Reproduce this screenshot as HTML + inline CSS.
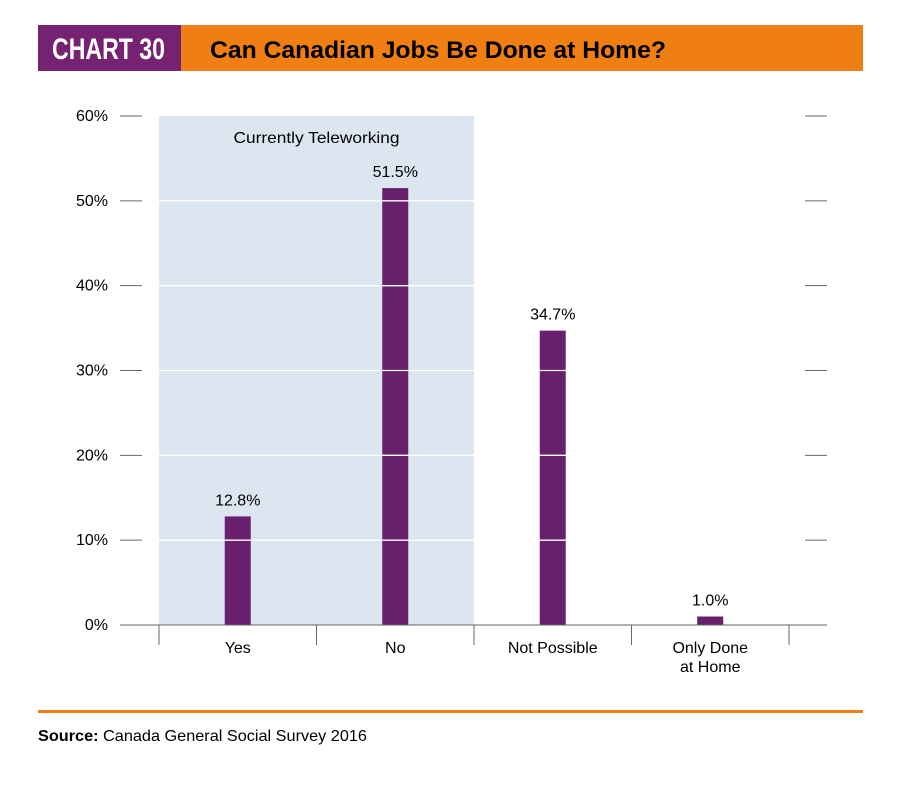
<!DOCTYPE html>
<html><head><meta charset="utf-8"><style>
body{margin:0;background:#fff;width:901px;height:788px;overflow:hidden;font-family:"Liberation Sans",sans-serif}
svg{position:absolute;left:0;top:0}
</style></head><body>
<svg width="901" height="788">
<rect x="38" y="25" width="143" height="46" fill="#762272"/>
<rect x="181" y="25" width="682" height="46" fill="#ef7f12"/>
<text x="52" y="59" fill="#fff" font-size="30" font-weight="bold" textLength="113" lengthAdjust="spacingAndGlyphs">CHART 30</text>
<text x="210" y="58" fill="#000" font-size="24" font-weight="bold" textLength="456" lengthAdjust="spacingAndGlyphs">Can Canadian Jobs Be Done at Home?</text>
<g id="plot"></g>
<rect x="38" y="710" width="825" height="3" fill="#ef7f12"/>
<text x="38" y="741" font-size="16" fill="#000" textLength="329" lengthAdjust="spacingAndGlyphs"><tspan font-weight="bold">Source:</tspan> Canada General Social Survey 2016</text>
</svg>
<script>
const categories=[["Yes"],["No"],["Not Possible"],["Only Done","at Home"]];
const values=[12.8,51.5,34.7,1.0];
const valueLabels=["12.8%","51.5%","34.7%","1.0%"];
const yTicks=[0,10,20,30,40,50,60];
const ns="http://www.w3.org/2000/svg";
const g=document.getElementById('plot');
const y0=625,yTop=116,yMax=60,x0=159,step=157.5;
const y=v=>y0-(v/yMax)*(y0-yTop);
const xc=i=>x0+step*(i+0.5);
function mk(t,a,p){const e=document.createElementNS(ns,t);for(const k in a)e.setAttribute(k,a[k]);(p||g).appendChild(e);return e;}
let sh=mk('rect',{x:x0,y:yTop,width:xc(1)+step/2-x0,height:y0-yTop,fill:'#dce6f1'});


let st=mk('text',{x:(x0+xc(1)+step/2)/2,y:143,'text-anchor':'middle','font-size':16,textLength:166,lengthAdjust:'spacingAndGlyphs'});
st.textContent='Currently Teleworking';


values.forEach((v,i)=>{
 let b=mk('rect',{x:xc(i)-13,y:y(v),width:26,height:y0-y(v),fill:'#68206d'});
 
 
 let t=mk('text',{x:xc(i),y:y(v)-11,'text-anchor':'middle','font-size':16});
 t.textContent=valueLabels[i];
 
 
 categories[i].forEach((ln,j)=>{
  let c=mk('text',{x:xc(i),y:653+j*19,'text-anchor':'middle','font-size':16});
  c.textContent=ln;
  
  
 });
});
yTicks.forEach(v=>{
 if(v>0&&v<yMax){let gl=mk('line',{x1:x0,x2:827,y1:y(v),y2:y(v),stroke:'#fff','stroke-width':1.3});
 }
 mk('line',{x1:120,x2:142,y1:y(v),y2:y(v),stroke:'#666'});
 mk('line',{x1:805,x2:827,y1:y(v),y2:y(v),stroke:'#666'});
 let t=mk('text',{x:108,y:y(v)+5,'text-anchor':'end','font-size':16});
 t.textContent=v+'%';
 
 
});
let ax=mk('line',{x1:120,x2:827,y1:y0,y2:y0,stroke:'#666'});


for(let i=0;i<=categories.length;i++){mk('line',{x1:x0+step*i,x2:x0+step*i,y1:y0,y2:645,stroke:'#666'});}
</script>
</body></html>
